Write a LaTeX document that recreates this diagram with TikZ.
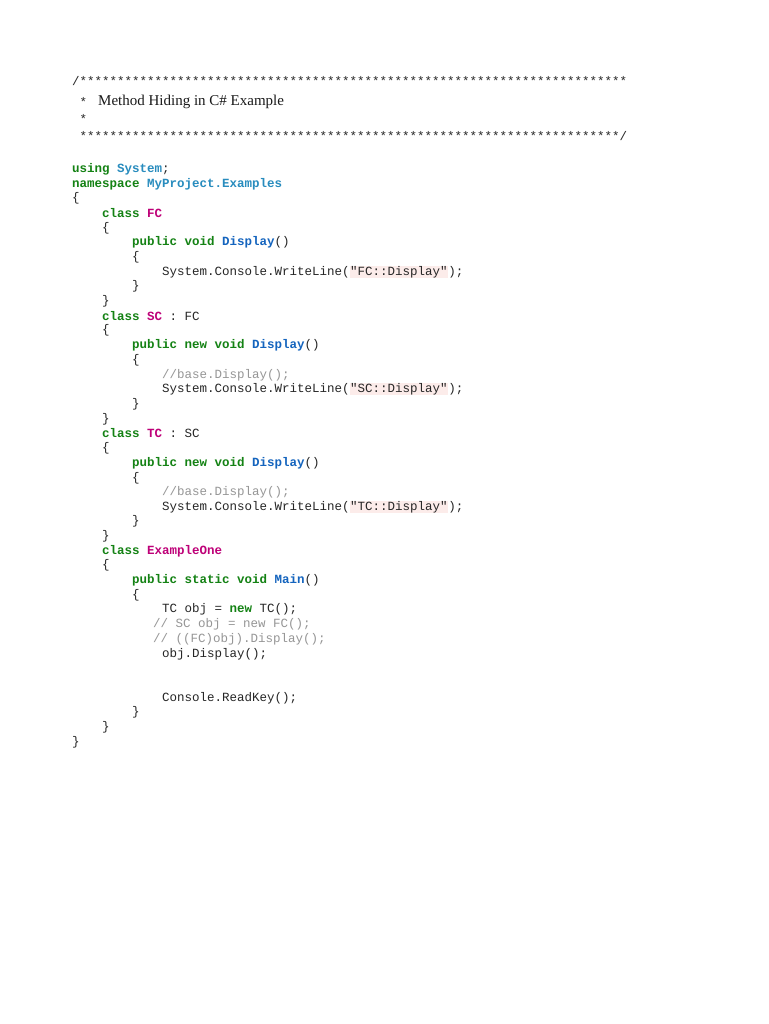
\documentclass[tikz,border=0pt]{standalone}
\usepackage{fontspec}
\setmainfont{Liberation Serif}
\setmonofont{Liberation Mono}
\definecolor{kwc}{RGB}{20,130,20}
\definecolor{cnc}{RGB}{190,0,120}
\definecolor{tyc}{RGB}{40,140,190}
\definecolor{mnc}{RGB}{20,100,190}
\definecolor{cmc}{RGB}{150,150,150}
\definecolor{stbg}{RGB}{252,236,234}
\newcommand{\kw}[1]{\textcolor{kwc}{\textbf{#1}}}
\newcommand{\cn}[1]{\textcolor{cnc}{\textbf{#1}}}
\newcommand{\ty}[1]{\textcolor{tyc}{\textbf{#1}}}
\newcommand{\mn}[1]{\textcolor{mnc}{\textbf{#1}}}
\newcommand{\cm}[1]{\textcolor{cmc}{#1}}
\newcommand{\st}[1]{{\setlength\fboxsep{0.5pt}\colorbox{stbg}{#1}}}
\def\tenst{**********}
\begin{document}
\begin{tikzpicture}[x=1pt,y=-1pt,
  code/.style={anchor=west,inner sep=0pt,font=\ttfamily\fontsize{12.5}{14}\selectfont,text=black!85}]
\useasboundingbox[fill=white] (0,0) rectangle (768,1024);
\node[code] (h1) at (72,81) {/\tenst\tenst\tenst\tenst\tenst\tenst\tenst***};
\node[code] (h2) at (72,102) {\ *};
\node[anchor=west,inner sep=0pt,font=\fontsize{15}{17}\selectfont,text=black!90] (title) at (98,102) {Method Hiding in C\# Example};
\node[code] (h3) at (72,119) {\ *};
\node[code] (h4) at (72,136) {\ \tenst\tenst\tenst\tenst\tenst\tenst\tenst**/};
\node[code] (c1) at (72,169) {\kw{using} \ty{System};};
\node[code] (c2) at (72,184) {\kw{namespace} \ty{MyProject.Examples}};
\node[code] (c3) at (72,198) {\{};
\node[code] (c4) at (102,213) {\kw{class} \cn{FC}};
\node[code] (c5) at (102,228) {\{};
\node[code] (c6) at (132,242) {\kw{public} \kw{void} \mn{Display}()};
\node[code] (c7) at (132,257) {\{};
\node[code] (c8) at (162,272) {System.Console.WriteLine(\st{"FC::Display"});};
\node[code] (c9) at (132,286) {\}};
\node[code] (c10) at (102,301) {\}};
\node[code] (c11) at (102,316) {\kw{class} \cn{SC} : FC};
\node[code] (c12) at (102,330) {\{};
\node[code] (c13) at (132,345) {\kw{public} \kw{new} \kw{void} \mn{Display}()};
\node[code] (c14) at (132,360) {\{};
\node[code] (c15) at (162,375) {\cm{//base.Display();}};
\node[code] (c16) at (162,389) {System.Console.WriteLine(\st{"SC::Display"});};
\node[code] (c17) at (132,404) {\}};
\node[code] (c18) at (102,419) {\}};
\node[code] (c19) at (102,433) {\kw{class} \cn{TC} : SC};
\node[code] (c20) at (102,448) {\{};
\node[code] (c21) at (132,463) {\kw{public} \kw{new} \kw{void} \mn{Display}()};
\node[code] (c22) at (132,478) {\{};
\node[code] (c23) at (162,492) {\cm{//base.Display();}};
\node[code] (c24) at (162,507) {System.Console.WriteLine(\st{"TC::Display"});};
\node[code] (c25) at (132,521) {\}};
\node[code] (c26) at (102,536) {\}};
\node[code] (c27) at (102,551) {\kw{class} \cn{ExampleOne}};
\node[code] (c28) at (102,565) {\{};
\node[code] (c29) at (132,580) {\kw{public} \kw{static} \kw{void} \mn{Main}()};
\node[code] (c30) at (132,595) {\{};
\node[code] (c31) at (162,609) {TC obj = \kw{new} TC();};
\node[code] (c32) at (153,624) {\cm{// SC obj = new FC();}};
\node[code] (c33) at (153,639) {\cm{// ((FC)obj).Display();}};
\node[code] (c34) at (162,654) {obj.Display();};
\node[code] (c35) at (162,698) {Console.ReadKey();};
\node[code] (c36) at (132,712) {\}};
\node[code] (c37) at (102,727) {\}};
\node[code] (c38) at (72,742) {\}};
\end{tikzpicture}
\end{document}
